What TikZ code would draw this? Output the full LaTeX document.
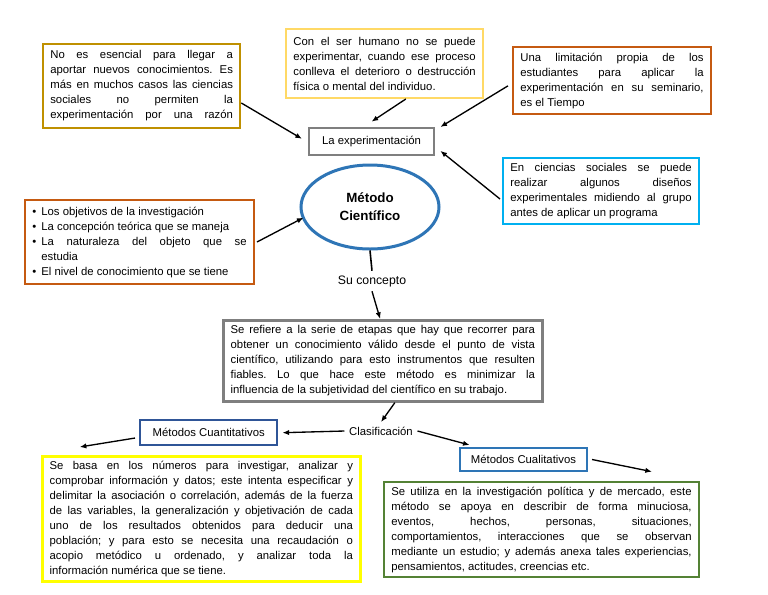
\documentclass[tikz,border=0pt]{standalone}
\usepackage{fontspec}
\setmainfont{Liberation Sans}
\usepackage{tikz}
\usetikzlibrary{shapes, arrows.meta, positioning}
\usepackage{xcolor}
\definecolor{oro}{HTML}{BF9000}
\definecolor{amarillo}{HTML}{FFD966}
\definecolor{naranja}{HTML}{C55A11}
\definecolor{celeste}{HTML}{00B0F0}
\definecolor{azul}{HTML}{2E75B6}
\definecolor{azuloscuro}{HTML}{2F5597}
\definecolor{gris}{HTML}{7F7F7F}
\definecolor{verde}{HTML}{548235}
\definecolor{limon}{HTML}{FFFF00}
\frenchspacing

\begin{document}
\begin{tikzpicture}[x=0.75pt,y=-0.75pt,font=\fontsize{8.5}{11.25}\selectfont,
caja/.style={draw,line width=1.5pt,anchor=north west,inner xsep=5.5pt,inner ysep=2pt,align=justify},
etiqueta/.style={draw,line width=1.5pt,anchor=north west,inner sep=2pt},
flecha/.style={-{Latex[length=5pt,width=4pt]},line width=1pt}]

\fill[white] (0,0) rectangle (768,594);
\useasboundingbox (0,0) rectangle (768,594);

\node[caja,draw=oro,text width=137pt,minimum height=63pt] (noes) at (42,43) {No es esencial para llegar a\linebreak aportar nuevos conocimientos. Es\linebreak más en muchos casos las ciencias\linebreak sociales no permiten la\linebreak experimentación por una razón\parfillskip=0pt\par};
\node[caja,draw=amarillo,text width=136.75pt,minimum height=51.75pt] (conel) at (285,28) {Con el ser humano no se puede\linebreak experimentar, cuando ese proceso\linebreak conlleva el deterioro o destrucción\linebreak física o mental del individuo.};
\node[caja,draw=naranja,text width=137.5pt,minimum height=50.25pt] (una) at (512,46) {Una limitación propia de los\linebreak estudiantes para aplicar la\linebreak experimentación en su seminario,\linebreak es el Tiempo};
\node[etiqueta,draw=gris,minimum width=93.75pt,minimum height=20.25pt] (laexp) at (308,127) {La experimentación};
\node[caja,draw=celeste,text width=136pt,minimum height=49.5pt] (encien) at (502,157) {En ciencias sociales se puede\linebreak realizar algunos diseños\linebreak experimentales midiendo al grupo\linebreak antes de aplicar un programa};
\node[caja,draw=naranja,text width=160.75pt,minimum height=63pt] (obj) at (24,199) {%
\hangindent=0.8em\hangafter=1\noindent\makebox[0.8em][l]{\textbullet}Los objetivos de la investigación\par
\hangindent=0.8em\hangafter=1\noindent\makebox[0.8em][l]{\textbullet}La concepción teórica que se maneja\par
\hangindent=0.8em\hangafter=1\noindent\makebox[0.8em][l]{\textbullet}La naturaleza del objeto que se\linebreak estudia\par
\hangindent=0.8em\hangafter=1\noindent\makebox[0.8em][l]{\textbullet}El nivel de conocimiento que se tiene};
\node[ellipse,draw=azul,line width=2.25pt,minimum width=103.5pt,minimum height=63pt,inner sep=0pt,align=center,font=\bfseries\fontsize{10}{13.5}\selectfont] (metodo) at (370,207) {Método\\Científico};
\node[font=\fontsize{9.2}{11}\selectfont] (suconc) at (372,281) {Su concepto};
\node[caja,draw=gris,line width=2pt,text width=228.25pt,minimum height=60.75pt] (concepto) at (222,319) {Se refiere a la serie de etapas que hay que recorrer para\linebreak obtener un conocimiento válido desde el punto de vista\linebreak científico, utilizando para esto instrumentos que resulten\linebreak fiables. Lo que hace este método es minimizar la\linebreak influencia de la subjetividad del científico en su trabajo.};
\node (clasif) at (381,431) {Clasificación};
\node[etiqueta,draw=azuloscuro,line width=1.8pt,minimum width=102.75pt,minimum height=18.75pt] (cuanti) at (139,419) {Métodos Cuantitativos};
\node[etiqueta,draw=azul,minimum width=95.25pt,minimum height=17.25pt] (cuali) at (459,447) {Métodos Cualitativos};
\node[caja,draw=limon,line width=2pt,text width=227.5pt,minimum height=93.75pt] (cuantit) at (41,455) {Se basa en los números para investigar, analizar y\linebreak comprobar información y datos; este intenta especificar y\linebreak delimitar la asociación o correlación, además de la fuerza\linebreak de las variables, la generalización y objetivación de cada\linebreak uno de los resultados obtenidos para deducir una\linebreak población; y para esto se necesita una recaudación o\linebreak acopio metódico u ordenado, y analizar toda la\linebreak información numérica que se tiene.};
\node[caja,draw=verde,text width=225.25pt,minimum height=71.25pt] (cualit) at (383,481) {Se utiliza en la investigación política y de mercado, este\linebreak método se apoya en describir de forma minuciosa,\linebreak eventos, hechos, personas, situaciones,\linebreak comportamientos, interacciones que se observan\linebreak mediante un estudio; y además anexa tales experiencias,\linebreak pensamientos, actitudes, creencias etc.};

\draw[flecha] ([yshift=-12.75pt]noes.east) -- ([xshift=-4.5pt,yshift=2pt]laexp.west);
\draw[flecha] ([xshift=16pt]conel.south) -- ([yshift=4pt]laexp.north);
\draw[flecha] ([xshift=-3pt,yshift=-4pt]una.west) -- ([xshift=4pt]laexp.north east);
\draw[flecha] ([xshift=-1.5pt,yshift=-6pt]encien.west) -- ([xshift=4pt,yshift=-7pt]laexp.east);
\draw[flecha] ([xshift=1.5pt]obj.east) -- ([xshift=3pt,yshift=-8pt]metodo.west);
\draw[line width=1.2pt] (metodo.south) -- (suconc.north);
\draw[flecha] (suconc.south) -- ([xshift=-2pt]concepto.north);
\draw[flecha] ([xshift=9pt]concepto.south) -- (clasif.north);
\draw[flecha] (clasif.west) -- ([xshift=3pt]cuanti.east);
\draw[flecha] (clasif.east) -- ([xshift=8pt,yshift=1.5pt]cuali.north west);
\draw[flecha] ([xshift=-3pt,yshift=-4pt]cuanti.west) -- ([xshift=29pt,yshift=6pt]cuantit.north west);
\draw[flecha] ([xshift=3pt]cuali.east) -- ([xshift=-36pt,yshift=7pt]cualit.north east);

\end{tikzpicture}
\end{document}
